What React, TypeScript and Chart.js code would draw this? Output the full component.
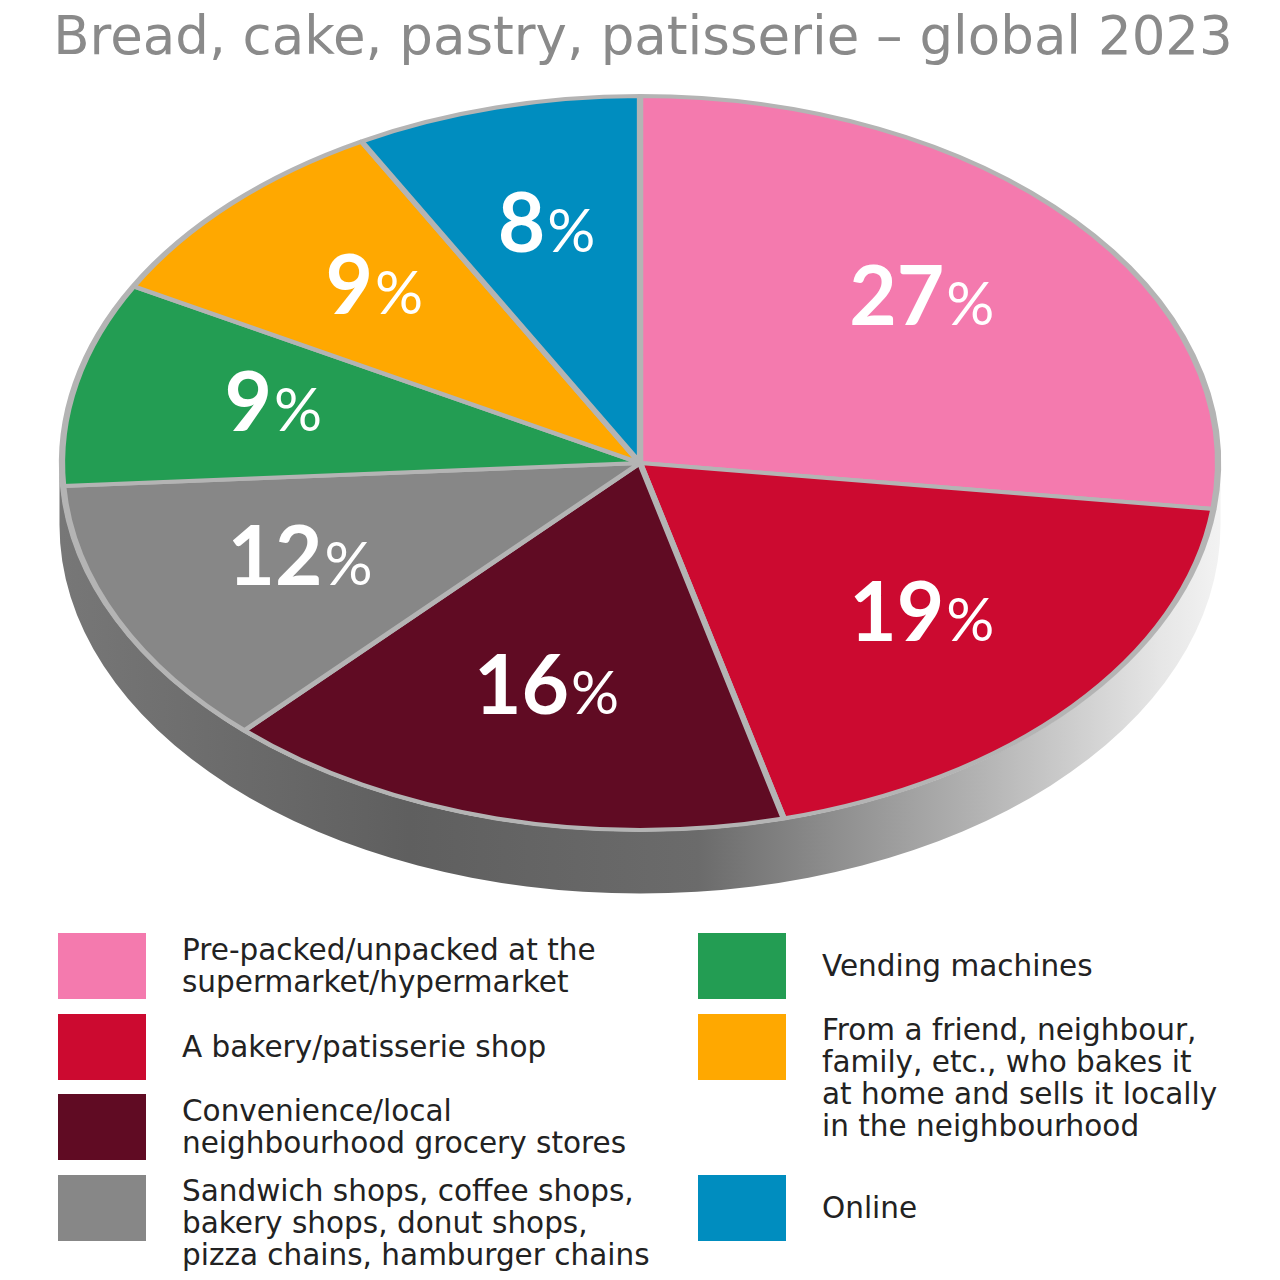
import React, { useEffect, useRef } from 'react';
import Chart from 'chart.js/auto';

const title = 'Bread, cake, pastry, patisserie – global 2023';

const categories = [
  'Pre-packed/unpacked at the\nsupermarket/hypermarket',
  'A bakery/patisserie shop',
  'Convenience/local\nneighbourhood grocery stores',
  'Sandwich shops, coffee shops,\nbakery shops, donut shops,\npizza chains, hamburger chains',
  'Vending machines',
  'From a friend, neighbour,\nfamily, etc., who bakes it\nat home and sells it locally\nin the neighbourhood',
  'Online',
];
const shares = [27, 19, 16, 12, 9, 9, 8];
const colors = ['#f47aae', '#cc0a30', '#600b23', '#878787', '#239d53', '#ffa800', '#008dbf'];

// where each legend entry sits: [column, row]
const legendSlots = [[0, 0], [0, 1], [0, 2], [0, 3], [1, 0], [1, 1], [1, 3]];

// ellipse look of the tilted pie
const RX = 578;
const RY = 367;
const DEPTH = 62;
const LABEL_F = 0.65;

const pie3d = {
  id: 'pie3d',
  beforeDatasetsDraw(chart: any) {
    const arc = chart.getDatasetMeta(0).data[0];
    if (!arc) return;
    const { x, y, outerRadius: r } = arc;
    const sx = RX / r;
    const sy = RY / r;
    const ctx = chart.ctx;
    ctx.save();
    ctx.translate(x, y);
    ctx.scale(sx, sy);
    ctx.translate(-x, -y);
    // side of the disc
    const d = DEPTH / sy;
    const g = ctx.createLinearGradient(x - r, 0, x + r, 0);
    g.addColorStop(0, '#777777');
    g.addColorStop(0.3, '#5f5f5f');
    g.addColorStop(0.55, '#6b6b6b');
    g.addColorStop(0.8, '#b5b5b5');
    g.addColorStop(0.95, '#e6e6e6');
    g.addColorStop(1, '#f2f2f2');
    ctx.fillStyle = g;
    ctx.beginPath();
    ctx.arc(x, y + d, r + 2, 0, Math.PI);
    ctx.lineTo(x - r - 2, y);
    ctx.arc(x, y, r + 2, Math.PI, 0, true);
    ctx.closePath();
    ctx.fill();
  },
  afterDatasetsDraw(chart: any) {
    const ctx = chart.ctx;
    ctx.restore();
    const meta = chart.getDatasetMeta(0);
    ctx.save();
    ctx.fillStyle = '#ffffff';
    ctx.textAlign = 'left';
    ctx.textBaseline = 'alphabetic';
    meta.data.forEach((a: any, i: number) => {
      const mid = (a.startAngle + a.endAngle) / 2;
      const px = a.x + RX * LABEL_F * Math.cos(mid);
      const py = a.y + RY * LABEL_F * Math.sin(mid);
      const num = String(shares[i]);
      const bigFont = 'bold 82px Lato';
      const smallFont = '60px Lato';
      ctx.font = bigFont;
      const w1 = ctx.measureText(num).width;
      ctx.font = smallFont;
      const w2 = ctx.measureText('%').width;
      const x0 = px - (w1 + w2 + 2) / 2;
      ctx.font = bigFont;
      ctx.fillText(num, x0, py + 20);
      ctx.font = smallFont;
      ctx.fillText('%', x0 + w1 + 2, py + 20);
    });
    ctx.restore();
  },
};

const PieChart: React.FC = () => {
  const chartRef = useRef<HTMLCanvasElement>(null);
  const chartInstance = useRef<Chart | null>(null);

  useEffect(() => {
    if (chartRef.current) {
      chartInstance.current = new Chart(chartRef.current, {
        type: 'pie',
        data: {
          labels: categories,
          datasets: [{
            data: shares,
            backgroundColor: colors,
            borderColor: '#b4b4b4',
            borderWidth: 5,
            clip: false,
          } as any],
        },
        options: {
          responsive: false,
          animation: false,
          events: [],
          layout: { padding: 0 },
          plugins: {
            legend: { display: false },
            tooltip: { enabled: false },
          },
        },
        plugins: [pie3d],
      });
    }
    return () => {
      if (chartInstance.current) {
        chartInstance.current.destroy();
        chartInstance.current = null;
      }
    };
  }, []);

  return (
    <canvas
      ref={chartRef}
      width={1280}
      height={926}
      style={{ position: 'absolute', left: 0, top: 0, width: 1280, height: 926 }}
    />
  );
};

const App: React.FC = () => {
  return (
    <div style={{ position: 'absolute', left: 0, top: 0, width: 1280, height: 1280, background: '#fff', overflow: 'hidden' }}>
      <PieChart />
      <div style={{
        position: 'absolute', left: 3, top: 9, width: 1280, textAlign: 'center', whiteSpace: 'nowrap',
        fontFamily: '"DejaVu Sans", sans-serif', fontSize: 53, lineHeight: 1, color: '#8a8a8a',
      }}>
        {title}
      </div>
      {categories.map((label, i) => {
        const [col, row] = legendSlots[i];
        return (
          <div key={i} style={{
            position: 'absolute', left: col === 0 ? 58 : 698, top: 933 + row * 80.7,
            display: 'flex', alignItems: 'flex-start',
          }}>
            <div style={{ width: 88, height: 66, background: colors[i], flex: 'none' }} />
            <div style={{
              marginLeft: 36, minHeight: 66, display: 'flex', alignItems: 'center',
              whiteSpace: 'pre', fontFamily: '"DejaVu Sans", sans-serif', fontSize: 29.5,
              lineHeight: '32px', color: '#222',
            }}>
              {label}
            </div>
          </div>
        );
      })}
    </div>
  );
};

export default App;
